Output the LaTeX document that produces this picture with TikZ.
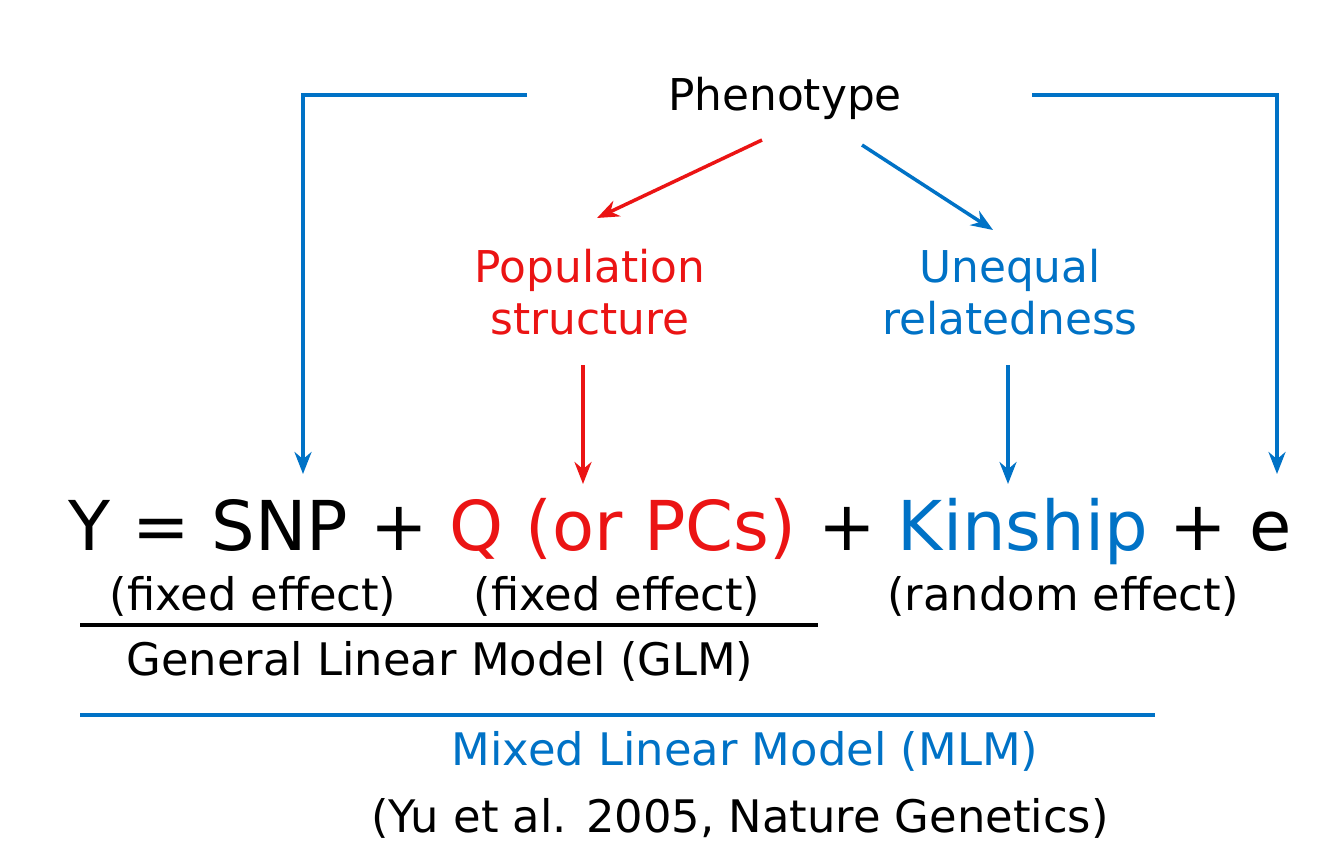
\documentclass[tikz,border=0pt]{standalone}
\usepackage{fontspec}
\setmainfont{DejaVu Sans}
\usetikzlibrary{arrows.meta}
\definecolor{myred}{RGB}{235,20,20}
\definecolor{myblue}{RGB}{0,114,198}
\begin{document}
\begin{tikzpicture}[x=1bp,y=-1bp,
  arr/.style={line width=3.5bp,-{Stealth[length=22bp,width=17bp]}},
  ln/.style={line width=3.5bp},
  lbl/.style={font=\fontsize{44}{52}\selectfont,inner sep=0,align=center},
  sub/.style={font=\fontsize{45}{50}\selectfont,inner sep=0}]
\useasboundingbox[fill=white] (0,0) rectangle (1327,852);
\node[lbl] (ph) at (785,98) {Phenotype};
\node[lbl,text=myred] (pop) at (590,292) {Population\\structure};
\node[lbl,text=myblue] (uneq) at (1010,292) {Unequal\\relatedness};
\node[inner sep=0,font=\fontsize{69}{80}\selectfont,anchor=base] (eq) at (680,550)
  {Y = SNP + \textcolor{myred}{Q (or PCs)} + \textcolor{myblue}{Kinship} + e};
\coordinate (l0) at (527,95); \coordinate (l1) at (303,95); \coordinate (l2) at (303,474);
\coordinate (r0) at (1032,95); \coordinate (r1) at (1277,95); \coordinate (r2) at (1277,474);
\draw[arr,myblue] (l0) -- (l1) -- (l2);
\draw[arr,myblue] (r0) -- (r1) -- (r2);
\coordinate (pa) at (762,140); \coordinate (pb) at (597,218);
\coordinate (ua) at (862,145); \coordinate (ub) at (993,230);
\draw[arr,myred] (pa) -- (pb);
\draw[arr,myblue] (ua) -- (ub);
\coordinate (qa) at (583,365); \coordinate (qb) at (583,484);
\coordinate (ka) at (1008,365); \coordinate (kb) at (1008,484);
\draw[arr,myred] (qa) -- (qb);
\draw[arr,myblue] (ka) -- (kb);
\node[sub] (f1) at (253,596) {(fixed effect)};
\node[sub] (f2) at (617,596) {(fixed effect)};
\node[sub] (f3) at (1063,596) {(random effect)};
\coordinate (g0) at (80,625); \coordinate (g1) at (818,625);
\draw[ln] (g0) -- (g1);
\node[sub] (glm) at (440,661) {General Linear Model (GLM)};
\coordinate (m0) at (80,715); \coordinate (m1) at (1155,715);
\draw[ln,myblue] (m0) -- (m1);
\node[sub,text=myblue] (mlm) at (745,751) {Mixed Linear Model (MLM)};
\node[sub] (yu) at (740,818) {(Yu et al. 2005, Nature Genetics)};
\end{tikzpicture}
\end{document}
